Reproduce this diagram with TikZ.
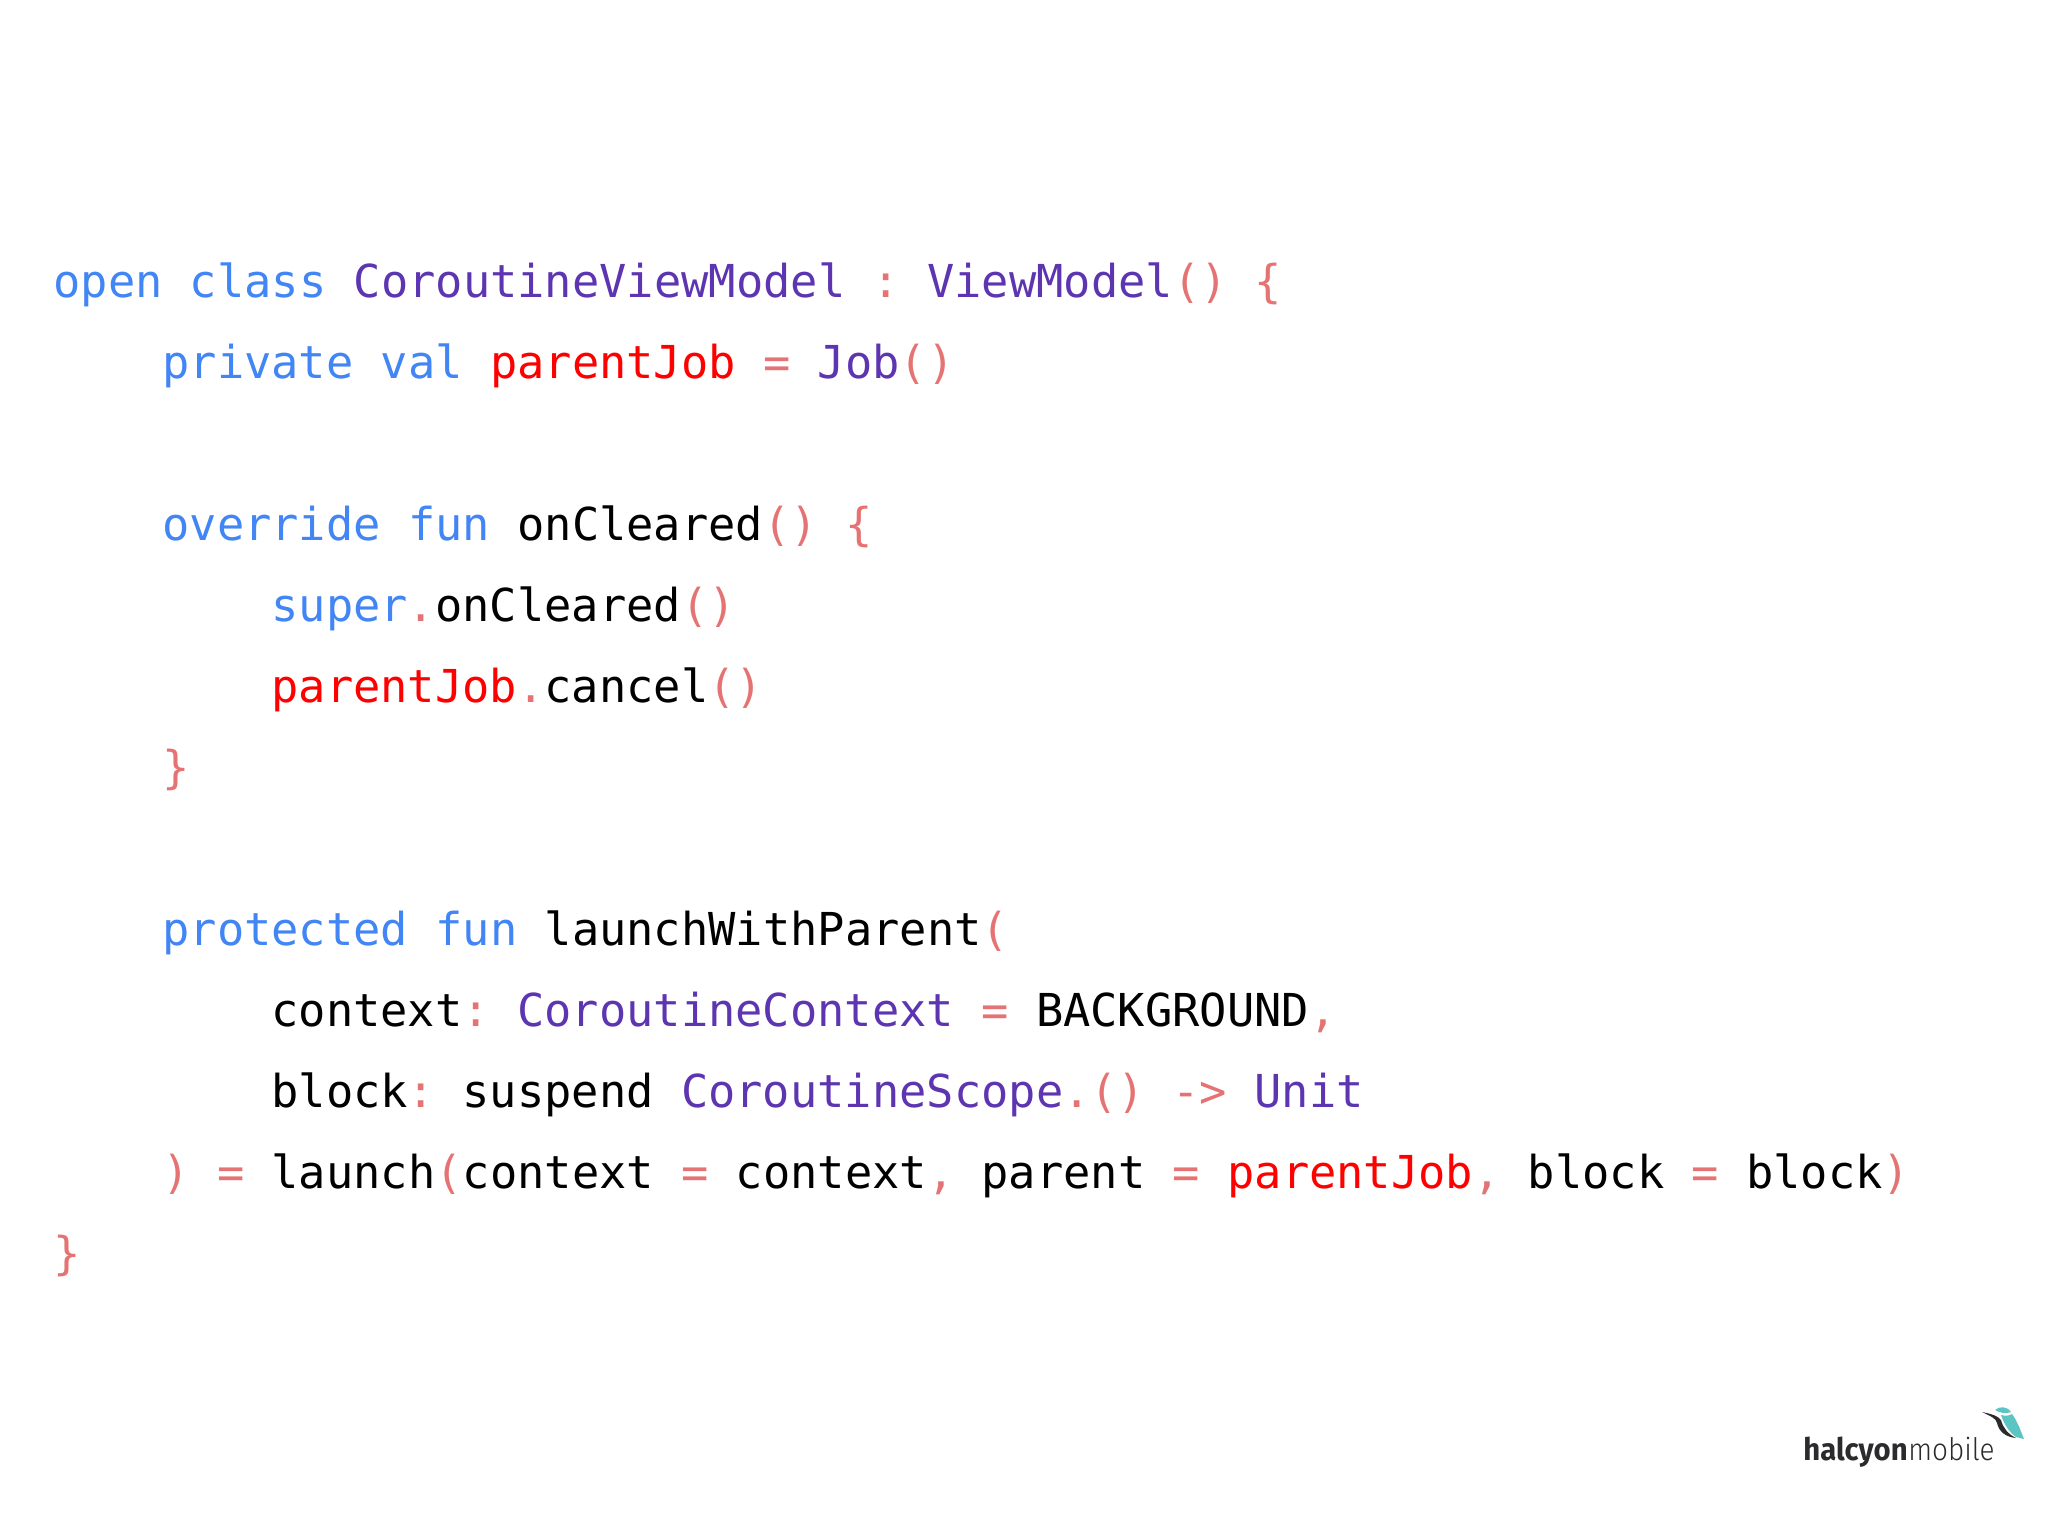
\documentclass[tikz,border=0pt]{standalone}
\usepackage{fontspec}
\setmonofont{DejaVu Sans Mono}
\newfontfamily\logobold{Fira Sans Bold}
\newfontfamily\logolight{Fira Sans Light}
\definecolor{kwblue}{HTML}{4285F4}
\definecolor{typurple}{HTML}{5E35B1}
\definecolor{pnsalmon}{HTML}{E57373}
\definecolor{jobred}{HTML}{FF0000}
\definecolor{birdteal}{HTML}{5BC5C3}
\definecolor{birddark}{HTML}{2B2A2C}
\newcommand{\kw}[1]{\textcolor{kwblue}{#1}}
\newcommand{\ty}[1]{\textcolor{typurple}{#1}}
\newcommand{\pn}[1]{\textcolor{pnsalmon}{#1}}
\newcommand{\jb}[1]{\textcolor{jobred}{#1}}
\tikzset{
	codeline/.style={anchor=base west,inner sep=0pt,font=\fontsize{22.68}{27}\ttfamily},
	logotext/.style={anchor=base west,inner sep=0pt,text=birddark}
}
\begin{document}
\begin{tikzpicture}[x=0.5pt,y=-0.5pt]
	\useasboundingbox (0,0) rectangle (2048,1536);
	\node[codeline] (classline) at (53,297) {\kw{open class} \ty{CoroutineViewModel} \pn{:} \ty{ViewModel}\pn{() \{}};
	\node[codeline] (valline) at (162,378) {\kw{private val} \jb{parentJob} \pn{=} \ty{Job}\pn{()}};
	\node[codeline] (overrideline) at (162,540) {\kw{override fun} onCleared\pn{() \{}};
	\node[codeline] (superline) at (271,621) {\kw{super}\pn{.}onCleared\pn{()}};
	\node[codeline] (cancelline) at (271,702) {\jb{parentJob}\pn{.}cancel\pn{()}};
	\node[codeline] (closeone) at (162,783) {\pn{\}}};
	\node[codeline] (launchline) at (162,945) {\kw{protected fun} launchWithParent\pn{(}};
	\node[codeline] (contextline) at (271,1026) {context\pn{:} \ty{CoroutineContext} \pn{=} BACKGROUND\pn{,}};
	\node[codeline] (blockline) at (271,1107) {block\pn{:} suspend \ty{CoroutineScope}\pn{.()} \pn{->} \ty{Unit}};
	\node[codeline] (bodyline) at (162,1188) {\pn{)} \pn{=} launch\pn{(}context \pn{=} context\pn{,} parent \pn{=} \jb{parentJob}\pn{,} block \pn{=} block\pn{)}};
	\node[codeline] (closetwo) at (53,1269) {\pn{\}}};
	% logo
	\node[logotext,font=\logobold\fontsize{15.5}{20}\selectfont] (halcyon) at (1803,1460) {\scalebox{0.945}[1]{halcyon}};
	\node[logotext,font=\logolight\fontsize{15.5}{20}\selectfont] (mobile) at (halcyon.base east) {\scalebox{0.9}[1]{mobile}};
	\fill[birddark] (1982,1412) .. controls (1992,1414) and (1998,1416) .. (2001,1420) .. controls (2003,1428) and (2008,1434) .. (2016,1438) .. controls (2006,1437) and (1999,1432) .. (1997,1423) .. controls (1996,1418) and (1990,1416) .. (1982,1412) -- cycle;
	\fill[birdteal] (2001,1415) .. controls (2005,1416) and (2009,1416) .. (2012,1414) .. controls (2018,1422) and (2021,1432) .. (2024,1439) -- (2016,1437) .. controls (2009,1432) and (2004,1424) .. (2001,1415) -- cycle;
	\fill[birdteal] (1995,1410) .. controls (1999,1406) and (2007,1406) .. (2011,1412) .. controls (2006,1414) and (2000,1413) .. (1995,1410) -- cycle;
\end{tikzpicture}
\end{document}
